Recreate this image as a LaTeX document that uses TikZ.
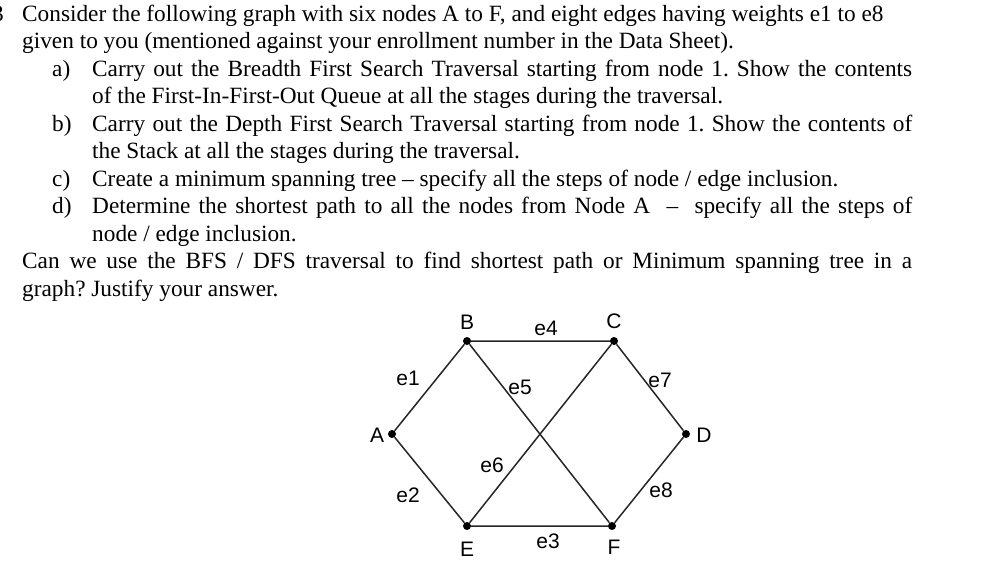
\documentclass[tikz,border=0pt]{standalone}
\usepackage{fontspec}
\setmainfont{Liberation Serif}
\newfontfamily\lab{Liberation Sans}
\frenchspacing
\newcommand{\jl}[2]{\hbox to #1{#2}}
\begin{document}
\begin{tikzpicture}[x=1pt,y=-1pt,
  ln/.style={anchor=base west,inner sep=0,font=\fontsize{23.3}{26}\selectfont},
  vx/.style={circle,fill=black,inner sep=0,minimum size=8},
  lb/.style={font=\lab\fontsize{21}{23}\selectfont,inner sep=0},
  ed/.style={line width=1.5pt,black!85}]
\clip (0,0) rectangle (983,588);
\useasboundingbox (0,0) rectangle (983,588);
\node[ln] (t0) at (-8,22) {3};
\node[ln] (t1) at (22,22) {Consider the following graph with six nodes A to F, and eight edges having weights e1 to e8};
\node[ln] (t2) at (22,49) {given to you (mentioned against your enrollment number in the Data Sheet).};
\node[ln] (t3) at (52,77) {a)};
\node[ln] (t3b) at (92,77) {\jl{820pt}{Carry out the Breadth First Search Traversal starting from node 1. Show the contents}};
\node[ln] (t4) at (92,104) {of the First-In-First-Out Queue at all the stages during the traversal.};
\node[ln] (t5) at (52,132) {b)};
\node[ln] (t5b) at (92,132) {\jl{820pt}{Carry out the Depth First Search Traversal starting from node 1. Show the contents of}};
\node[ln] (t6) at (92,159) {the Stack at all the stages during the traversal.};
\node[ln] (t7) at (52,187) {c)};
\node[ln] (t7b) at (92,187) {Create a minimum spanning tree -- specify all the steps of node / edge inclusion.};
\node[ln] (t8) at (52,214) {d)};
\node[ln] (t8b) at (92,214) {\jl{820pt}{Determine the shortest path to all the nodes from Node A \ -- \ specify all the steps of}};
\node[ln] (t9) at (92,242) {node / edge inclusion.};
\node[ln] (t10) at (22,269) {\jl{890pt}{Can we use the BFS / DFS traversal to find shortest path or Minimum spanning tree in a}};
\node[ln] (t11) at (22,297) {graph? Justify your answer.};
\node[vx] (A) at (392,434) {};
\node[vx] (B) at (467,341) {};
\node[vx] (C) at (614,341) {};
\node[vx] (D) at (686,434) {};
\node[vx] (E) at (467,526) {};
\node[vx] (F) at (612,526) {};
\draw[ed] (A)--(B) (A)--(E) (B)--(C) (B)--(F) (E)--(C) (E)--(F) (C)--(D) (D)--(F);
\node[lb] (lB) at (467,322) {B};
\node[lb] (lC) at (614,321) {C};
\node[lb] (lA) at (377,435) {A};
\node[lb] (lD) at (704,435) {D};
\node[lb] (lE) at (467,549) {E};
\node[lb] (lF) at (614,547) {F};
\node[lb] (e4) at (546,328) {e4};
\node[lb] (e1) at (408,378) {e1};
\node[lb] (e5) at (520,387) {e5};
\node[lb] (e7) at (660,380) {e7};
\node[lb] (e6) at (492,465) {e6};
\node[lb] (e2) at (408,495) {e2};
\node[lb] (e8) at (661,490) {e8};
\node[lb] (e3) at (548,541) {e3};
\end{tikzpicture}
\end{document}
